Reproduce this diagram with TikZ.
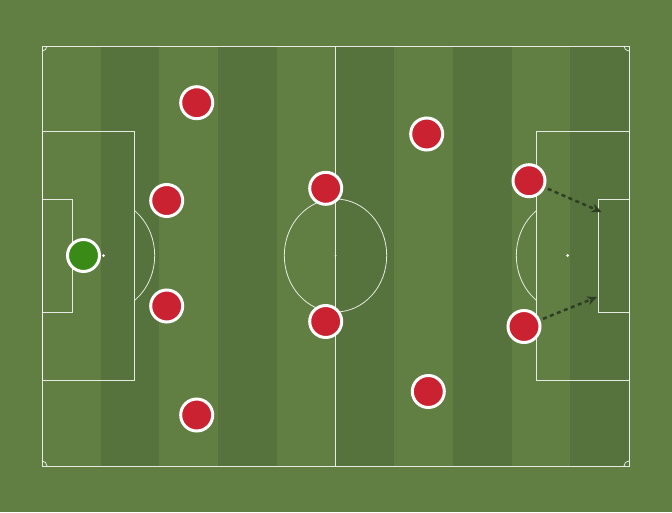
\documentclass[tikz,border=0pt]{standalone}
\usepackage{tikz}
\usetikzlibrary{arrows.meta,shadows}
\definecolor{grasslight}{RGB}{98,127,67}
\definecolor{grassdark}{RGB}{87,115,61}
\definecolor{redcolor}{RGB}{202,34,48}
\definecolor{keepercolor}{RGB}{58,138,23}
\definecolor{runcolor}{RGB}{46,62,37}

\begin{document}
\begin{tikzpicture}[>=Stealth, x=1pt, y=-1pt]
  % Styles for pitch, players and runs
  \tikzset{
    pitchline/.style={draw=white, draw opacity=0.85, line width=0.8pt},
    player/.style={circle, draw=white, fill=redcolor, line width=3pt, minimum size=32pt, inner sep=0pt, drop shadow={opacity=0.25, shadow xshift=0.4pt, shadow yshift=-1pt}},
    keeper/.style={player, fill=keepercolor},
    spot/.style={circle, fill=white, inner sep=0pt, minimum size=3pt},
    run/.style={-{Stealth[length=10pt, width=9pt]}, runcolor, line width=2.5pt, dash pattern=on 4pt off 3.5pt, shorten <=3pt}
  }

  % Grass and stripes
  \fill[grasslight] (0,0) rectangle (672,512);
  \useasboundingbox (0,0) rectangle (672,512);
  \fill[grassdark] (100.7,46) rectangle (159.4,466);
  \fill[grassdark] (218.1,46) rectangle (276.8,466);
  \fill[grassdark] (335.5,46) rectangle (394.2,466);
  \fill[grassdark] (452.9,46) rectangle (511.6,466);
  \fill[grassdark] (570.3,46) rectangle (629,466);

  % Pitch markings
  \draw[pitchline] (42,46) rectangle (629,466);
  \draw[pitchline] (335.5,46) -- (335.5,466);
  \draw[pitchline] (335.5,255.5) ellipse [x radius=51.2, y radius=56.5];
  \draw[pitchline] (42,131) rectangle (134.6,380);
  \draw[pitchline] (42,199) rectangle (72.8,312);
  \draw[pitchline] (629,131) rectangle (536.4,380);
  \draw[pitchline] (629,199) rectangle (598.2,312);
  \begin{scope}
    \clip (134.6,0) rectangle (300,512);
    \draw[pitchline] (103.5,255.5) ellipse [x radius=51.2, y radius=56.5];
  \end{scope}
  \begin{scope}
    \clip (372,0) rectangle (536.4,512);
    \draw[pitchline] (567.5,255.5) ellipse [x radius=51.2, y radius=56.5];
  \end{scope}
  \begin{scope}
    \clip (42,46) rectangle (629,466);
    \draw[pitchline] (42,46) circle (5);
    \draw[pitchline] (629,46) circle (5);
    \draw[pitchline] (42,466) circle (5);
    \draw[pitchline] (629,466) circle (5);
  \end{scope}
  \node[spot, minimum size=2pt] (centre) at (335.5,255.5) {};
  \node[spot] (spotleft) at (103.5,255.5) {};
  \node[spot] (spotright) at (567.5,255.5) {};

  % Players
  \node[keeper] (keeper) at (83.5,255.5) {};
  \node[player] (red1) at (196.7,102.7) {};
  \node[player] (red2) at (166.7,200.5) {};
  \node[player] (red3) at (166.7,306) {};
  \node[player] (red4) at (196.7,415) {};
  \node[player] (red5) at (325.7,188.3) {};
  \node[player] (red6) at (325.7,321.5) {};
  \node[player] (red7) at (426.7,134) {};
  \node[player] (red8) at (428.3,391.5) {};
  \node[player] (red9) at (529,180.7) {};
  \node[player] (red10) at (524,326.5) {};

  % Runs into the box
  \coordinate (target1) at (601.5,212);
  \coordinate (target2) at (597,297);
  \draw[run] (red9) -- (target1);
  \draw[run] (red10) -- (target2);
\end{tikzpicture}
\end{document}
